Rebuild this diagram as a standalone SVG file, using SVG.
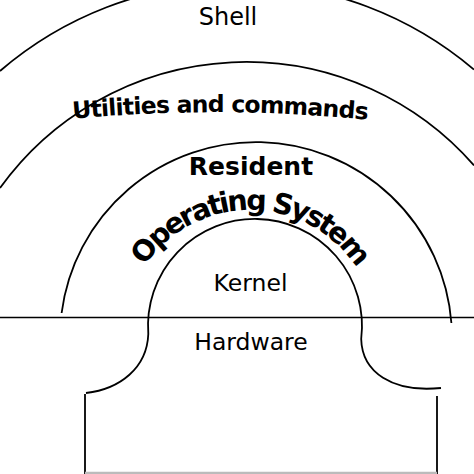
<svg xmlns="http://www.w3.org/2000/svg" width="474" height="474" viewBox="0 0 474 474">
<style>
.ln{fill:none;stroke:#000;stroke-width:1.8}
.t{font-family:"DejaVu Sans","Verdana",sans-serif;fill:#000}
.b{font-weight:bold}
</style>
<defs>
<path id="pUtil" d="M60,120 Q220,104 380,121"/>
<path id="pOS" d="M123,337 A127,127 0 0 1 377,337"/>
</defs>
<rect width="474" height="474" fill="#fff"/>
<g id="connectors">
<path class="ln" d="M0,71 A365,365 0 0 1 474,69.6"/>
<path class="ln" d="M0,188 A303,303 0 0 1 474,165.4"/>
<path class="ln" d="M61.6,313 A196,196 0 0 1 451.4,323"/>
<path class="ln" d="M148.3,334 A107,107 0 1 1 361.2,339"/>
<path class="ln" style="stroke-width:1.5" d="M0,317.5 H474"/>
<path class="ln" d="M148.3,334 C147,368 120,389 86,393"/>
<path class="ln" d="M361.2,339 C362,372 392,393 441,388"/>
<path class="ln" d="M85,394 V474"/>
<path class="ln" d="M437,396 V474"/>
<path fill="none" stroke="#bbb" stroke-width="2.5" d="M85,473 H437"/>
</g>
<g id="shell"><text class="t" x="228" y="25" font-size="24" text-anchor="middle">Shell</text></g>
<g id="utilities"><text class="t b" font-size="23.5" letter-spacing="-0.8"><textPath href="#pUtil" startOffset="50%" text-anchor="middle">Utilities and commands</textPath></text></g>
<g id="resident"><text class="t b" x="251" y="175" font-size="25" text-anchor="middle">Resident</text>
<text class="t b" font-size="28.5" letter-spacing="-2.6"><textPath href="#pOS" startOffset="50%" text-anchor="middle">Operating System</textPath></text></g>
<g id="kernel"><text class="t" x="250.5" y="291" font-size="23.5" text-anchor="middle">Kernel</text></g>
<g id="hardware"><text class="t" x="251" y="350" font-size="23.5" text-anchor="middle">Hardware</text></g>
</svg>
